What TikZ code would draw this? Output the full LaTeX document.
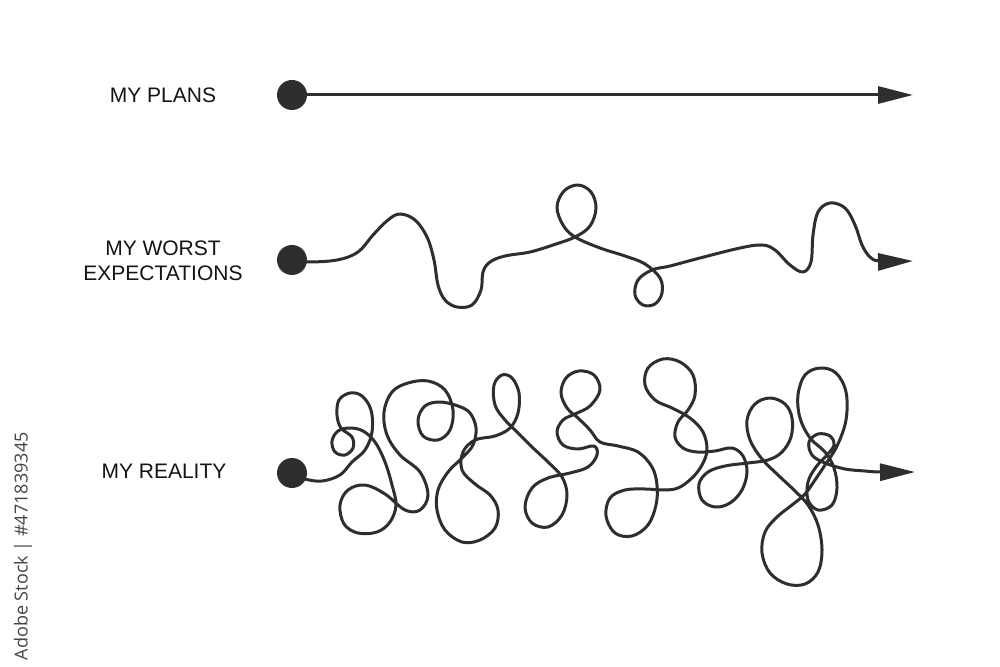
\documentclass[tikz,border=0pt]{standalone}
\usepackage{fontspec}
\setmainfont{Liberation Sans}
\newfontfamily\wmfont{Open Sans}
\usetikzlibrary{arrows.meta}
\definecolor{ink}{HTML}{2E2E2E}
\definecolor{wmgray}{HTML}{454545}
\begin{document}
\begin{tikzpicture}[x=0.5pt,y=-0.5pt,
  dot/.style={circle,fill=ink,inner sep=0pt,minimum size=15pt},
  wire/.style={draw=ink,line width=1.5pt,line cap=round,line join=round,-{Triangle[length=17.5pt,width=8.5pt]}},
  squiggle/.style={smooth,tension=0.6},
  lbl/.style={font=\fontsize{10.5}{12.5}\selectfont,text=black!92,align=center,inner sep=0pt},
  wm/.style={font=\wmfont\fontsize{9}{11}\selectfont,text=wmgray,rotate=90,inner sep=0pt}
]
\useasboundingbox[fill=white] (0,0) rectangle (1000,667);

% labels
\node[lbl] (lplans) at (163,95) {MY PLANS};
\node[lbl] (lworst) at (163,260.5) {MY WORST\\EXPECTATIONS};
\node[lbl] (lreal) at (164,471) {MY REALITY};
\node[wm,anchor=east] (wmark) at (23,432) {Adobe Stock | \#471839345};

% start dots
\node[dot] (dplans) at (292,95) {};
\node[dot] (dworst) at (292,260) {};
\node[dot] (dreal) at (292,473) {};

% end points
\coordinate (eplans) at (913,95);
\coordinate (eworst) at (913,261);
\coordinate (ereal) at (915,472);

% my plans
\draw[wire] (dplans.center) -- (eplans);

% my worst expectations
\draw[wire] plot[squiggle] coordinates {(dworst.center) (307,262) (337,260) (358,252) (373,235)
 (388,220) (400,214) (415,220) (427,237) (434,260) (438,285) (445,300) (457,307)
 (472,305) (481,290) (483,272) (490,262) (505,256) (530,252) (553,245) (575,237)
 (590,226) (596,208) (591,192) (578,185) (564,191) (557,207) (563,225) (575,237)
 (600,248) (625,256) (645,264) (660,278) (662,293) (655,304) (643,305) (635,295)
 (638,280) (652,270) (670,266) (700,258) (740,248) (762,245) (775,250) (790,265)
 (803,272) (811,262) (813,235) (818,212) (830,203) (845,208) (855,225) (862,245)
 (870,257) (880,261) (eworst)};

% my reality
\draw[wire] plot[squiggle] coordinates {(dreal.center) (305,479) (322,481) (340,475) (352,462)
 (365,450) (372,432) (371,410) (362,396) (350,393) (339,400) (337,415) (341,428)
 (352,437) (353,448) (345,455) (335,452) (332,441) (338,431) (350,428) (363,431)
 (375,442) (385,462) (392,485) (396,505) (390,522) (377,532) (358,533) (344,524)
 (340,505) (348,490) (365,485) (385,494) (405,510) (420,510) (428,495) (420,472)
 (400,455) (387,435) (384,412) (392,392) (408,383) (428,381) (445,390) (453,410)
 (450,430) (438,440) (423,436) (418,420) (425,406) (440,402) (458,406) (470,413)
 (476,428) (473,445) (462,458) (448,472) (438,490) (437,510) (445,530) (462,542)
 (480,540) (495,528) (498,510) (490,495) (475,484) (462,470) (463,452) (475,440)
 (495,436) (510,428) (518,413) (519,393) (512,378) (502,375) (494,385) (495,405)
 (505,420) (517,432) (532,447) (548,462) (562,477) (567,495) (562,515) (548,527)
 (532,523) (525,507) (532,488) (548,478) (570,473) (588,467) (597,455) (594,446)
 (578,449) (563,445) (557,432) (563,420) (575,414) (590,406) (600,390) (594,375)
 (579,371) (566,378) (561,393) (567,408) (578,418) (590,430) (600,442) (618,446)
 (638,452) (652,467) (657,485) (656,505) (648,525) (632,536) (615,533) (606,516)
 (610,498) (625,490) (645,489) (663,490) (678,488) (692,478) (702,465) (707,450)
 (703,432) (690,418) (672,408) (655,400) (645,385) (648,368) (663,359) (680,362)
 (693,375) (695,395) (688,410) (678,422) (675,437) (683,448) (697,452) (715,451)
 (732,448) (743,456) (747,472) (742,490) (730,503) (715,507) (702,500) (699,484)
 (708,472) (725,466) (748,463) (768,460) (782,452) (791,437) (792,418) (785,404)
 (770,398) (755,404) (747,420) (750,440) (762,459) (778,475) (795,491) (808,505)
 (818,525) (822,550) (818,572) (805,584) (787,584) (770,573) (762,553) (765,532)
 (777,517) (792,505) (805,494) (815,480) (825,465) (837,446) (846,420) (846,392)
 (836,373) (820,368) (805,375) (798,395) (800,418) (810,438) (825,452) (834,468)
 (837,488) (832,505) (818,510) (808,500) (808,482) (816,467) (827,455) (834,445)
 (830,436) (818,434) (809,442) (812,455) (825,463) (845,469) (865,471) (880,472) (ereal)};
\end{tikzpicture}
\end{document}
